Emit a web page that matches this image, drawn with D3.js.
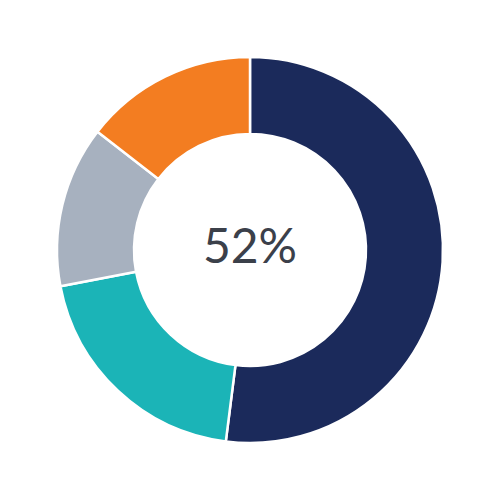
<!DOCTYPE html>
<html>
<head>
<meta charset="utf-8">
<script src="https://cdn.jsdelivr.net/npm/d3@7"></script>
<style>
  html, body { margin: 0; padding: 0; background: #fff; }
</style>
</head>
<body>
<div id="chart"></div>
<script>
let labels = ["A", "B", "C", "D"];
let values = [52, 20, 13.5, 14.5];
let colors = ["#1b2a5b", "#1bb4b7", "#a7b1bf", "#f37d21"];
let centerLabel = "52%";

let width = 500;
let height = 500;

let svg = d3.select("#chart").append("svg")
    .attr("width", width)
    .attr("height", height);

let g = svg.append("g")
    .attr("transform", "translate(250,250)");

let pie = d3.pie().sort(null).value(d => d.value);
let arc = d3.arc().innerRadius(116).outerRadius(193);

let data = labels.map((d, i) => ({"key": d, "value": values[i], "color": colors[i]}));

g.selectAll("path")
    .data(pie(data))
    .join("path")
        .attr("d", arc)
        .attr("fill", d => d.data.color)
        .attr("stroke", "#fff")
        .attr("stroke-width", 2.5);

g.append("text")
    .attr("text-anchor", "middle")
    .attr("y", 13)
    .attr("font-family", "Lato, 'Open Sans', sans-serif")
    .attr("font-size", 48)
    .attr("fill", "#3b404a")
    .text(centerLabel);
</script>
</body>
</html>
